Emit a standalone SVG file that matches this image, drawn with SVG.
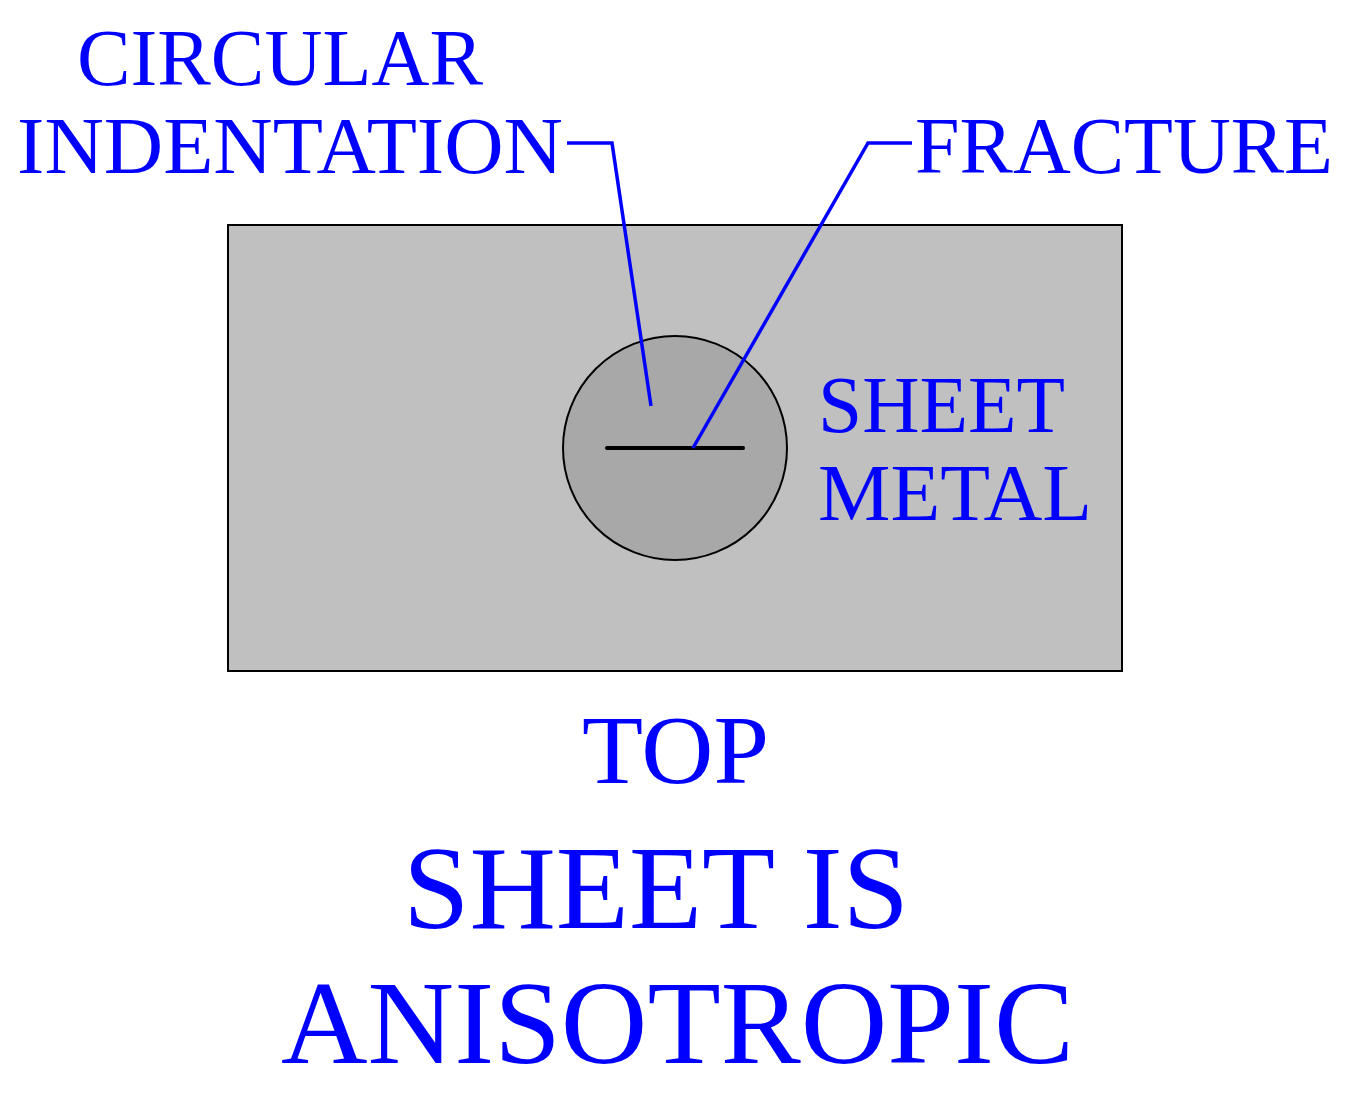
<svg xmlns="http://www.w3.org/2000/svg" width="1350" height="1100" viewBox="0 0 1350 1100">
<style>
text{font-family:"Liberation Serif","Times New Roman",serif;fill:#0000ff}
.l{fill:none;stroke:#0000ff;stroke-width:3.5}
</style>
<rect width="1350" height="1100" fill="#ffffff"/>
<g id="sheet">
<rect x="228" y="225" width="894" height="446" fill="#c0c0c0" stroke="#000" stroke-width="2"/>
<text x="818" y="432" font-size="80" textLength="247" lengthAdjust="spacingAndGlyphs">SHEET</text>
<text x="818" y="520" font-size="80" textLength="274" lengthAdjust="spacingAndGlyphs">METAL</text>
</g>
<g id="indentation">
<circle cx="675" cy="448" r="112" fill="#a8a8a8" stroke="#000" stroke-width="2"/>
</g>
<g id="fracture">
<line x1="607" y1="448" x2="743" y2="448" stroke="#000" stroke-width="4" stroke-linecap="round"/>
</g>
<g id="label-indentation">
<text x="77" y="85" font-size="80" textLength="406" lengthAdjust="spacingAndGlyphs">CIRCULAR</text>
<text x="17" y="173" font-size="80" textLength="546" lengthAdjust="spacingAndGlyphs">INDENTATION</text>
</g>
<g id="label-fracture">
<text x="915" y="173" font-size="80" textLength="418" lengthAdjust="spacingAndGlyphs">FRACTURE</text>
</g>
<g id="connectors">
<polyline class="l" points="567,143 612,143 651,406"/>
<polyline class="l" points="912,143 868,143 693,448"/>
</g>
<g id="captions">
<text x="582" y="783" font-size="98" textLength="187" lengthAdjust="spacingAndGlyphs">TOP</text>
<text x="403" y="928" font-size="118" textLength="506" lengthAdjust="spacingAndGlyphs">SHEET IS</text>
<text x="281" y="1063" font-size="119" textLength="793" lengthAdjust="spacingAndGlyphs">ANISOTROPIC</text>
</g>
</svg>
